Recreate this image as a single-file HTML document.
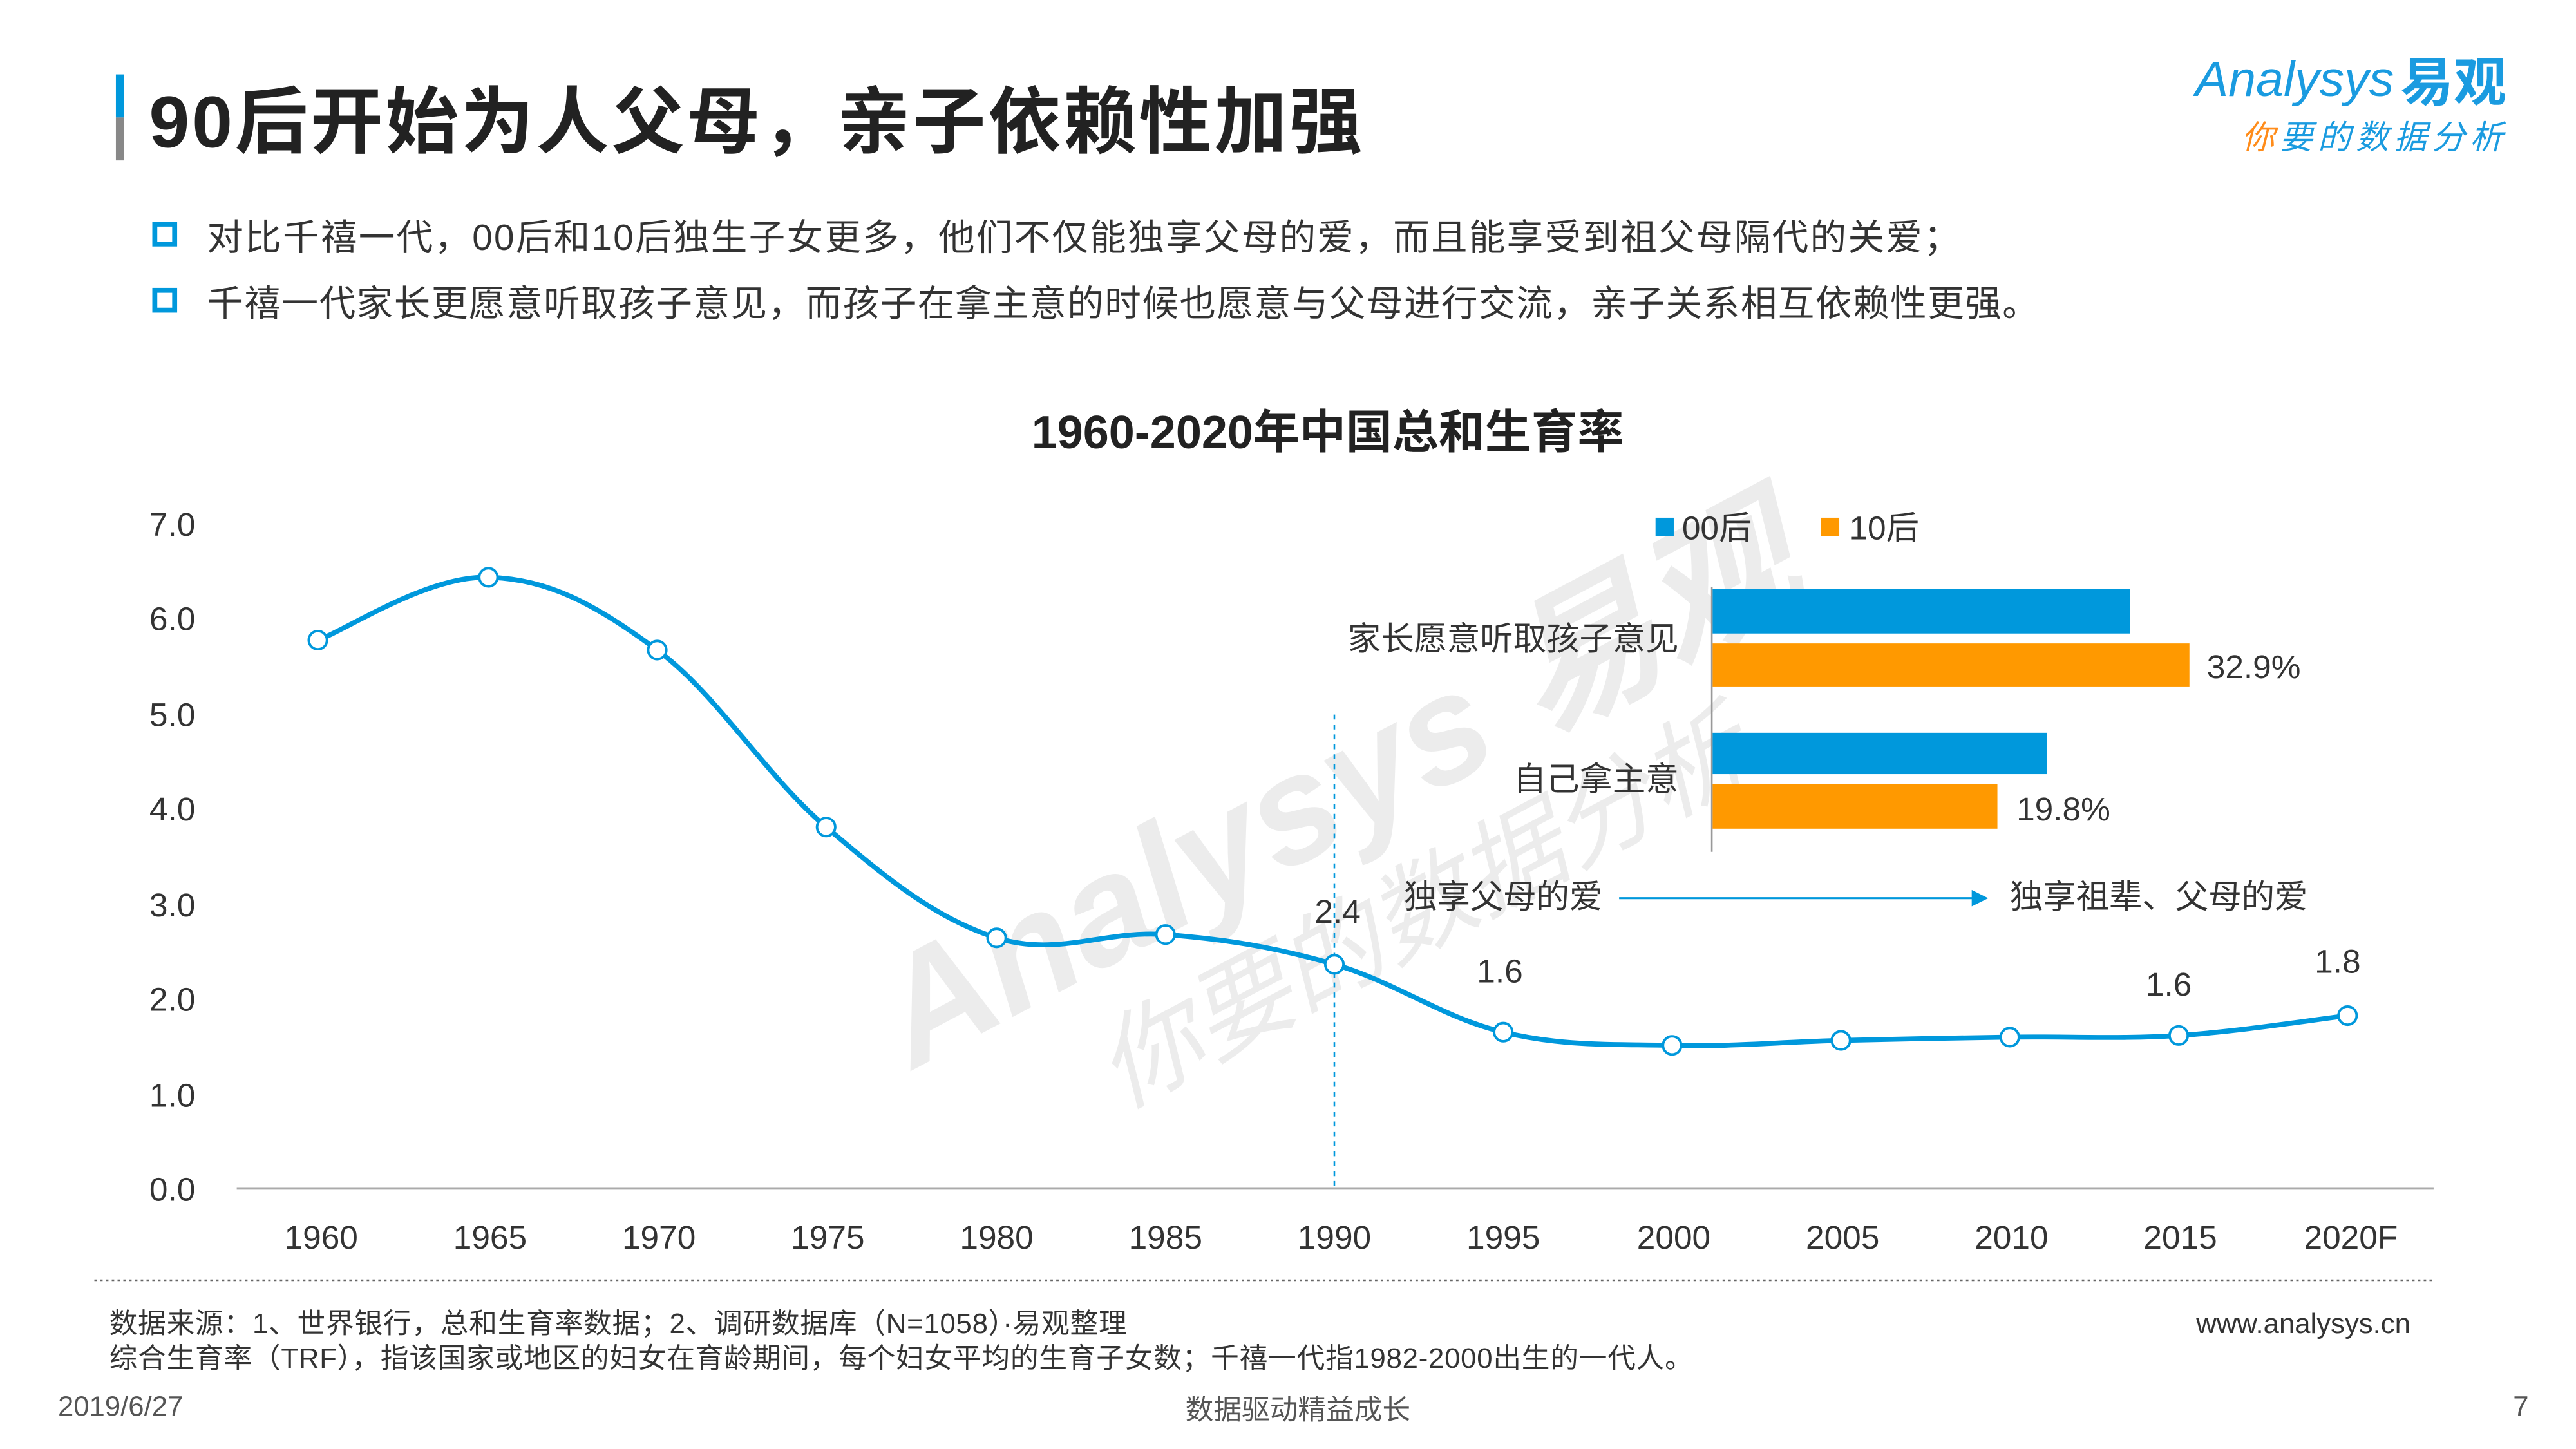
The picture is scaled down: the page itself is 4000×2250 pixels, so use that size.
<!DOCTYPE html>
<html><head><meta charset="utf-8"><style>
html,body{margin:0;padding:0;background:#fff;width:4000px;height:2250px;overflow:hidden}
svg{display:block}
text{font-family:"Liberation Sans","Noto Sans CJK SC",sans-serif}
</style></head><body>
<svg width="4000" height="2250" viewBox="0 0 1556 876" preserveAspectRatio="none" xmlns="http://www.w3.org/2000/svg">
<g fill="#000" opacity="0.07" transform="rotate(-28 780 480)">
<text x="500" y="520" font-size="92" font-style="italic" font-weight="bold">Analysys 易观</text>
<text x="600" y="600" font-size="62" font-style="italic">你要的数据分析</text>
</g>
<rect x="70" y="45" width="5" height="26" fill="#0098dc"/>
<rect x="70" y="71" width="5" height="26" fill="#888"/>
<text x="90" y="89" font-size="44" font-weight="bold" fill="#222" letter-spacing="1.5">90后开始为人父母，亲子依赖性加强</text>
<text x="1326" y="58" font-size="30" font-style="italic" fill="#1a9be0">Analysys</text>
<text x="1450" y="61" font-size="32" font-weight="bold" fill="#1a9be0">易观</text>
<text x="1354" y="90" font-size="20" font-style="italic" fill="#ff8c1a">你</text>
<text x="1377" y="90" font-size="20" font-style="italic" fill="#1a9be0" letter-spacing="3">要的数据分析</text>
<rect x="93.5" y="135.5" width="12" height="12" fill="none" stroke="#0098dc" stroke-width="3"/>
<rect x="93.5" y="175.5" width="12" height="12" fill="none" stroke="#0098dc" stroke-width="3"/>
<text x="125" y="151" font-size="22" fill="#333" letter-spacing="0.9">对比千禧一代，00后和10后独生子女更多，他们不仅能独享父母的爱，而且能享受到祖父母隔代的关爱；</text>
<text x="125" y="191" font-size="22" fill="#333" letter-spacing="0.6">千禧一代家长更愿意听取孩子意见，而孩子在拿主意的时候也愿意与父母进行交流，亲子关系相互依赖性更强。</text>
<text x="802" y="271" font-size="28" font-weight="bold" fill="#222" text-anchor="middle">1960-2020年中国总和生育率</text>
<g font-size="20" fill="#333" text-anchor="end">
<text x="118" y="324">7.0</text><text x="118" y="381">6.0</text><text x="118" y="439">5.0</text>
<text x="118" y="496">4.0</text><text x="118" y="554">3.0</text><text x="118" y="611">2.0</text>
<text x="118" y="669">1.0</text><text x="118" y="726">0.0</text>
</g>
<line x1="143" y1="718.5" x2="1470" y2="718.5" stroke="#aaa" stroke-width="1.5"/>
<g font-size="20" fill="#333" text-anchor="middle">
<text x="194" y="755">1960</text><text x="296" y="755">1965</text><text x="398" y="755">1970</text>
<text x="500" y="755">1975</text><text x="602" y="755">1980</text><text x="704" y="755">1985</text>
<text x="806" y="755">1990</text><text x="908" y="755">1995</text><text x="1011" y="755">2000</text>
<text x="1113" y="755">2005</text><text x="1215" y="755">2010</text><text x="1317" y="755">2015</text>
<text x="1420" y="755">2020F</text>
</g>
<line x1="806" y1="432" x2="806" y2="718" stroke="#0098dc" stroke-width="1" stroke-dasharray="3,3"/>
<path id="curve" fill="none" stroke="#0098dc" stroke-width="3"/>
<g id="pts" fill="#fff" stroke="#0098dc" stroke-width="1.5"></g>
<g font-size="20" fill="#333" text-anchor="middle">
<text x="808" y="558">2.4</text><text x="906" y="594">1.6</text>
<text x="1310" y="602">1.6</text><text x="1412" y="588">1.8</text>
</g>
<rect x="1000" y="313" width="11" height="11" fill="#0098dc"/>
<text x="1016" y="326" font-size="20" fill="#333">00后</text>
<rect x="1100" y="313" width="11" height="11" fill="#ff9900"/>
<text x="1117" y="326" font-size="20" fill="#333">10后</text>
<line x1="1034" y1="355" x2="1034" y2="515" stroke="#999" stroke-width="1"/>
<rect x="1034.5" y="356" width="252" height="27" fill="#0098dc"/>
<rect x="1034.5" y="389" width="288" height="26" fill="#ff9900"/>
<rect x="1034.5" y="443" width="202" height="25" fill="#0098dc"/>
<rect x="1034.5" y="474" width="172" height="27" fill="#ff9900"/>
<text x="1333" y="410" font-size="20" fill="#333">32.9%</text>
<text x="1218" y="496" font-size="20" fill="#333">19.8%</text>
<text x="1014" y="393" font-size="20" fill="#333" text-anchor="end">家长愿意听取孩子意见</text>
<text x="1014" y="478" font-size="20" fill="#333" text-anchor="end">自己拿主意</text>
<text x="848" y="549" font-size="20" fill="#333">独享父母的爱</text>
<line x1="978" y1="543" x2="1193" y2="543" stroke="#0098dc" stroke-width="1.2"/>
<polygon points="1191,538 1201,543 1191,548" fill="#0098dc"/>
<text x="1214" y="549" font-size="20" fill="#333">独享祖辈、父母的爱</text>
<line x1="57" y1="774" x2="1470" y2="774" stroke="#666" stroke-width="1" stroke-dasharray="1.5,2"/>
<text x="66" y="806" font-size="17" fill="#333" letter-spacing="0.3">数据来源：1、世界银行，总和生育率数据；2、调研数据库（N=1058）·易观整理</text>
<text x="66" y="827" font-size="17" fill="#333" letter-spacing="0.3">综合生育率（TRF），指该国家或地区的妇女在育龄期间，每个妇女平均的生育子女数；千禧一代指1982-2000出生的一代人。</text>
<text x="1456" y="806" font-size="17" fill="#333" text-anchor="end">www.analysys.cn</text>
<text x="35" y="856" font-size="17" fill="#555">2019/6/27</text>
<text x="784" y="858" font-size="17" fill="#555" text-anchor="middle">数据驱动精益成长</text>
<text x="1518" y="856" font-size="17" fill="#555">7</text>
</svg>
<script>
var P=[[192,387],[295,349],[397,393],[499,500],[602,567],[704,565],[806,583],[908,624],[1010,632],[1112,629],[1214,627],[1316,626],[1418,614]];
var d="M"+P[0][0]+","+P[0][1];
for(var i=0;i<P.length-1;i++){var p0=P[i-1]||P[i],p1=P[i],p2=P[i+1],p3=P[i+2]||p2;
var t=0.18;
d+=" C"+(p1[0]+(p2[0]-p0[0])*t)+","+(p1[1]+(p2[1]-p0[1])*t)+" "+(p2[0]-(p3[0]-p1[0])*t)+","+(p2[1]-(p3[1]-p1[1])*t)+" "+p2[0]+","+p2[1];}
document.getElementById("curve").setAttribute("d",d);
var g=document.getElementById("pts"),s="";
P.forEach(function(p){s+='<circle cx="'+p[0]+'" cy="'+p[1]+'" r="5.5"/>';});
g.innerHTML=s;
</script>
</body></html>
